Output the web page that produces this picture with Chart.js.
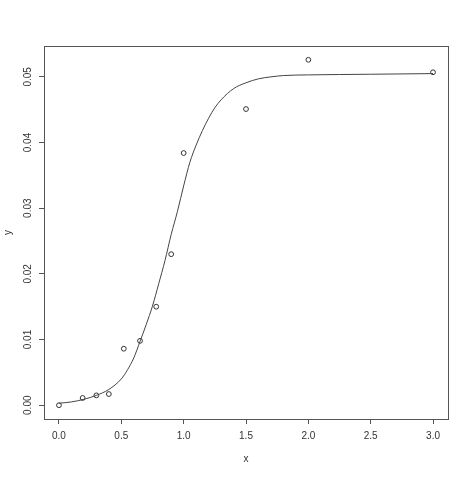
<!DOCTYPE html>
<html>
<head>
<meta charset="utf-8">
<script src="https://cdn.jsdelivr.net/npm/chart.js@4"></script>
<style>
  html, body { margin: 0; padding: 0; background: #fff; }
  #wrap { width: 474px; height: 477px; }
</style>
</head>
<body>
<div id="wrap"><canvas id="c"></canvas></div>
<script>
// observed points
const obsX = [0, 0.19, 0.3, 0.4, 0.52, 0.65, 0.78, 0.9, 1.0, 1.5, 2.0, 3.0];
const obsY = [0.0000, 0.0011, 0.0015, 0.0017, 0.0086, 0.0098, 0.0150, 0.0230, 0.0384, 0.0451, 0.0526, 0.0507];

// fitted curve
const fitX = [0, 0.1, 0.2, 0.3, 0.4, 0.5, 0.55, 0.6, 0.65, 0.7, 0.75, 0.8, 0.85, 0.9, 0.95,
              1.0, 1.05, 1.1, 1.15, 1.2, 1.25, 1.3, 1.4, 1.5, 1.6, 1.7, 1.8, 2.0, 2.5, 3.0];
const fitY = [0.0003, 0.0005, 0.0009, 0.0015, 0.0024, 0.0040, 0.0054, 0.0072, 0.0097, 0.0123, 0.0151, 0.0185, 0.0220, 0.0260, 0.0295,
              0.0334, 0.0370, 0.0396, 0.0418, 0.0437, 0.0453, 0.0465, 0.0482, 0.0491, 0.0497, 0.0500, 0.0502, 0.0503, 0.0504, 0.0505];

const xTicks = [0, 0.5, 1.0, 1.5, 2.0, 2.5, 3.0];
const yTicks = [0, 0.01, 0.02, 0.03, 0.04, 0.05];

const ink = '#333';
const font = { family: 'Liberation Sans, Arial, sans-serif', size: 10 };

// closes the plot box on top and right like base R's box()
const boxPlugin = {
  id: 'box',
  afterDraw(chart) {
    const a = chart.chartArea;
    const ctx = chart.ctx;
    ctx.save();
    ctx.strokeStyle = '#555';
    ctx.lineWidth = 1;
    ctx.strokeRect(Math.round(a.left) + 0.5, Math.round(a.top) + 0.5,
                   Math.round(a.right - a.left), Math.round(a.bottom - a.top));
    ctx.restore();
  }
};

new Chart(document.getElementById('c'), {
  type: 'scatter',
  data: {
    datasets: [
      {
        label: 'fit',
        data: fitX.map((x, i) => ({ x, y: fitY[i] })),
        showLine: true,
        borderColor: '#444',
        borderWidth: 1,
        pointRadius: 0,
        cubicInterpolationMode: 'monotone'
      },
      {
        label: 'obs',
        data: obsX.map((x, i) => ({ x, y: obsY[i] })),
        showLine: false,
        pointRadius: 2.4,
        pointBorderWidth: 1,
        borderColor: '#333',
        backgroundColor: 'rgba(0,0,0,0)'
      }
    ]
  },
  plugins: [boxPlugin],
  options: {
    responsive: true,
    maintainAspectRatio: false,
    animation: false,
    layout: { padding: { left: 0, right: 26, top: 46, bottom: 0 } },
    plugins: { legend: { display: false }, tooltip: { enabled: false } },
    scales: {
      x: {
        type: 'linear',
        min: -0.12,
        max: 3.12,
        afterBuildTicks: s => { s.ticks = xTicks.map(v => ({ value: v })); },
        afterFit: s => { s.height = 58; },
        grid: { drawOnChartArea: false, tickLength: 5, color: '#555' },
        border: { color: '#555' },
        ticks: { color: ink, font, padding: 6, maxRotation: 0, callback: v => v.toFixed(1) },
        title: { display: true, text: 'x', color: ink, font, padding: { top: 0, bottom: 12 } }
      },
      y: {
        type: 'linear',
        min: -0.0021,
        max: 0.0547,
        afterBuildTicks: s => { s.ticks = yTicks.map(v => ({ value: v })); },
        afterFit: s => { s.width = 44; },
        grid: { drawOnChartArea: false, tickLength: 5, color: '#555' },
        border: { color: '#555' },
        ticks: { color: ink, font, padding: 1, minRotation: 90, maxRotation: 90, crossAlign: 'center',
                 callback: v => v.toFixed(2) },
        title: { display: true, text: 'y', color: ink, font, padding: { top: 2, bottom: 0 } }
      }
    }
  }
});
</script>
</body>
</html>
